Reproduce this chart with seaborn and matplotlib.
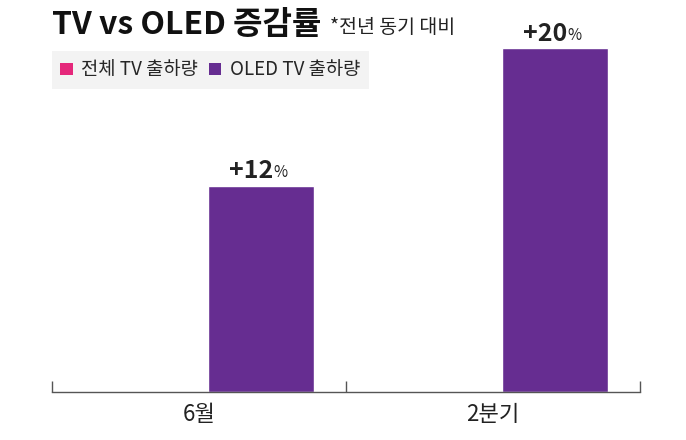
import seaborn as sns
import matplotlib.pyplot as plt
from matplotlib.patches import Patch
from matplotlib.transforms import offset_copy
import pandas as pd

sns.set_style("white")
plt.rcParams['font.family'] = ['Noto Sans CJK KR', 'DejaVu Sans']

# data (전년 동기 대비 증감률, %)
periods = ["6월", "2분기"]
series = ["전체 TV 출하량", "OLED TV 출하량"]
total_tv = [0, 0]
oled_tv = [12, 20]
colors = ["#E5287B", "#662D91"]

df = pd.DataFrame({
    "기간": periods * 2,
    "구분": [series[0]] * 2 + [series[1]] * 2,
    "값": total_tv + oled_tv,
})

fig = plt.figure(figsize=(6.86, 4.40), dpi=100)
ax = fig.add_axes([52 / 686, 48 / 440, 588 / 686, 378 / 440])

sns.barplot(data=df, x="기간", y="값", hue="구분", palette=colors,
            width=0.84, gap=0.14, saturation=1, legend=False, ax=ax)

ax.set_xlim(-0.5, 1.5)
ax.set_ylim(0, 22)
ax.set_xlabel("")
ax.set_ylabel("")
ax.set_yticks([])
for s in ["top", "left", "right"]:
    ax.spines[s].set_visible(False)
ax.spines["bottom"].set_color("#555555")
ax.spines["bottom"].set_linewidth(1)
ax.set_xticks([0, 1])
ax.set_xticklabels(periods, fontsize=16, color="#222222")
ax.tick_params(axis="x", which="major", bottom=False, length=0, pad=8)
ax.set_xticks([-0.5, 0.5, 1.5], minor=True)
ax.tick_params(axis="x", which="minor", bottom=True, direction="in",
               length=8, color="#555555", width=1)

# value labels on OLED bars
for bar in ax.patches:
    h = bar.get_height()
    if h <= 0:
        continue
    cx = bar.get_x() + bar.get_width() / 2
    t1 = offset_copy(ax.transData, fig=fig, x=9, y=2, units="points")
    ax.text(cx, h, f"+{h:g}", transform=t1, ha="right", va="bottom",
            fontsize=18, fontweight="bold", color="#222222")
    t2 = offset_copy(ax.transData, fig=fig, x=9, y=3.5, units="points")
    ax.text(cx, h, "%", transform=t2, ha="left", va="bottom",
            fontsize=11, color="#222222")

# title
title = fig.text(52 / 686, 1 - 34 / 440, "TV vs OLED 증감률", fontsize=23,
                 fontweight="bold", color="#111111", ha="left", va="baseline")
fig.canvas.draw()
bb = title.get_window_extent()
fig.text((bb.x1 + 9) / fig.bbox.width, 1 - 33 / 440, "*전년 동기 대비",
         fontsize=14, color="#222222", ha="left", va="baseline")

# legend
handles = [Patch(facecolor=c, edgecolor="none") for c in colors]
leg = fig.legend(handles, series, loc="upper left",
                 bbox_to_anchor=(52 / 686, 1 - 51 / 440), ncol=2,
                 fontsize=13.5, frameon=True, fancybox=False,
                 handlelength=0.65, handleheight=0.65, handletextpad=0.45,
                 columnspacing=0.6, borderpad=0.45, borderaxespad=0)
leg.get_frame().set_facecolor("#F1F1F1")
leg.get_frame().set_edgecolor("none")

fig.savefig("out.png", dpi=100)
